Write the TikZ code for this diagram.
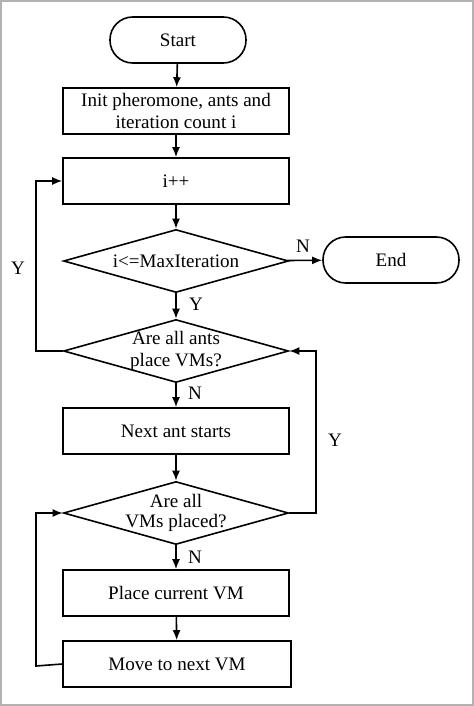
\documentclass[tikz,border=0pt]{standalone}
\usepackage{fontspec}
\setmainfont{Liberation Serif}
\usetikzlibrary{shapes.geometric, arrows.meta}

\begin{document}
\begin{tikzpicture}[x=0.75pt, y=-0.75pt, line width=1.2pt, >={Latex[length=7.5pt, width=6pt]},
    every node/.style={font=\fontsize{14.3}{16.5}\selectfont},
    term/.style={draw, rounded corners=17pt, minimum width=102pt, minimum height=34.5pt},
    block/.style={draw, minimum width=169.5pt, minimum height=34.5pt, align=center},
    decision/.style={draw, diamond, minimum width=168.75pt, minimum height=47.25pt, inner sep=0pt}]
    % Рамка
    \useasboundingbox (0,0) rectangle (474,706);
    \draw[black!30, line width=1.5pt] (1,1) rectangle (473,705);

    % Блоки
    \node[term] (start) at (178,40) {Start};
    \node[block] (init) at (176,111) {Init pheromone, ants and\\iteration count i};
    \node[block] (inc) at (176,181) {i++};
    \node[decision, label={[align=center]center:i<=MaxIteration}] (cond1) at (176,261) {};
    \node[term] (end) at (391,260) {End};
    \node[decision, label={[align=center]center:{Are all ants\\place VMs?}}] (cond2) at (176,351) {};
    \node[block] (next) at (176,431) {Next ant starts};
    \node[decision, label={[align=center, font=\fontsize{14.3}{15.5}\selectfont]center:{Are all\\VMs placed?}}] (cond3) at (176,513) {};
    \node[block] (place) at (176,593) {Place current VM};
    \node[block, minimum width=171pt] (move) at (177,664) {Move to next VM};

    % Подписи
    \node (n1) at (303,246) {N};
    \node (y1) at (18,268) {Y};
    \node (y2) at (196,304) {Y};
    \node (n2) at (195,393) {N};
    \node (y3) at (335,440) {Y};
    \node (n3) at (195,557) {N};

    % Стрелки
    \draw[->] (start) -- (init);
    \draw[->] (init) -- (inc);
    \draw[->] (inc) -- (cond1);
    \draw[->] (cond1) -- (end);
    \draw[->] (cond1) -- (cond2);
    \draw[->] (cond2) -- (next);
    \draw[->] (next) -- (cond3);
    \draw[->] (cond3) -- (place);
    \draw[->] (place) -- (move);
    \draw[->] (cond2.west) -- (36,351) |- (inc.west); % цикл i
    \draw[->] (move.west) -- (36,666) |- (cond3.west); % цикл VM
    \draw[->] (cond3.east) -- (316,513) |- (cond2.east); % цикл ants
\end{tikzpicture}
\end{document}
